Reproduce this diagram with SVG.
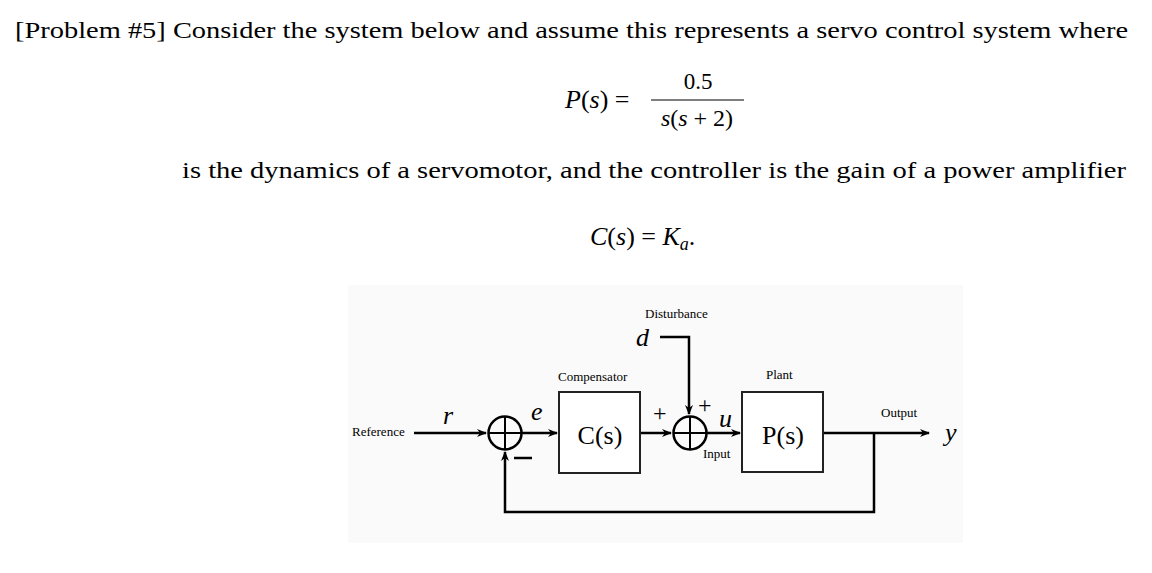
<svg xmlns="http://www.w3.org/2000/svg" width="1152" height="573" viewBox="0 0 1152 573">
<style>
.t{font-family:"Liberation Serif","Times New Roman","Nimbus Roman",serif;fill:#000}
.m{font-family:"Liberation Serif","Times New Roman","Nimbus Roman",serif;font-style:italic;fill:#000}
.ln{stroke:#000;stroke-width:2.5;fill:none}
.bx{stroke:#222;stroke-width:2;fill:#fff}
</style>
<defs><marker id="a" markerWidth="10" markerHeight="10" refX="9" refY="5" orient="auto" markerUnits="userSpaceOnUse"><path d="M0,1 L10,5 L0,9 L3,5 Z" fill="#000"/></marker></defs>
<rect width="1152" height="573" fill="#fff"/>
<text class="t" x="15" y="38" font-size="24" textLength="1113" lengthAdjust="spacingAndGlyphs">[Problem #5] Consider the system below and assume this represents a servo control system where</text>
<text class="m" x="565" y="108" font-size="26">P<tspan font-style="normal">(</tspan>s<tspan font-style="normal">) =</tspan></text>
<text class="t" x="698" y="89" font-size="23" text-anchor="middle">0.5</text>
<line x1="651" y1="100" x2="744" y2="100" stroke="#000" stroke-width="1.2"/>
<text class="m" x="697" y="126" font-size="24" text-anchor="middle">s<tspan font-style="normal">(</tspan>s<tspan font-style="normal"> + 2)</tspan></text>
<text class="t" x="182" y="178" font-size="24" textLength="944" lengthAdjust="spacingAndGlyphs">is the dynamics of a servomotor, and the controller is the gain of a power amplifier</text>
<text class="m" x="590" y="245" font-size="26">C<tspan font-style="normal">(</tspan>s<tspan font-style="normal">) = </tspan>K<tspan font-size="18" dy="5">a</tspan><tspan font-style="normal" dy="-5">.</tspan></text>
<rect x="348" y="285" width="615" height="258" fill="#fafafa"/>
<g id="connectors">
<path class="ln" d="M414,433 H486" marker-end="url(#a)"/>
<path class="ln" d="M522,433 H557" marker-end="url(#a)"/>
<path class="ln" d="M640,433 H671" marker-end="url(#a)"/>
<path class="ln" d="M707,433 H740" marker-end="url(#a)"/>
<path class="ln" d="M823,433 H929" marker-end="url(#a)"/>
<path class="ln" d="M660,337 H689 V414" marker-end="url(#a)"/>
<path class="ln" d="M874,433 V512 H505 V452" marker-end="url(#a)"/>
</g>
<g id="sum1"><circle cx="505" cy="433" r="16.5" class="ln" stroke-width="2"/><path d="M488.5,433 H521.5 M505,416.5 V449.5" stroke="#000" stroke-width="2"/></g>
<g id="sum2"><circle cx="690" cy="433" r="16.5" class="ln" stroke-width="2"/><path d="M673.5,433 H706.5 M690,416.5 V449.5" stroke="#000" stroke-width="2"/></g>
<g id="comp"><rect x="559" y="392" width="81" height="81" class="bx"/><text class="t" x="600" y="444" font-size="26" text-anchor="middle">C(s)</text></g>
<g id="plant"><rect x="742" y="392" width="81" height="80" class="bx"/><text class="t" x="783" y="444" font-size="26" text-anchor="middle">P(s)</text></g>
<g class="t" font-size="13">
<text x="352" y="436">Reference</text>
<text x="558" y="381">Compensator</text>
<text x="645" y="318">Disturbance</text>
<text x="766" y="379">Plant</text>
<text x="881" y="417">Output</text>
<text x="703" y="458">Input</text>
</g>
<g class="m" font-size="26">
<text x="443" y="424">r</text>
<text x="531" y="420">e</text>
<text x="636" y="346">d</text>
<text x="719" y="427">u</text>
<text x="945" y="441">y</text>
</g>
<g class="t" font-size="24">
<text x="653" y="421">+</text>
<text x="698" y="413">+</text>
</g>
<line x1="514" y1="458" x2="532" y2="458" stroke="#000" stroke-width="2.5"/>
</svg>
